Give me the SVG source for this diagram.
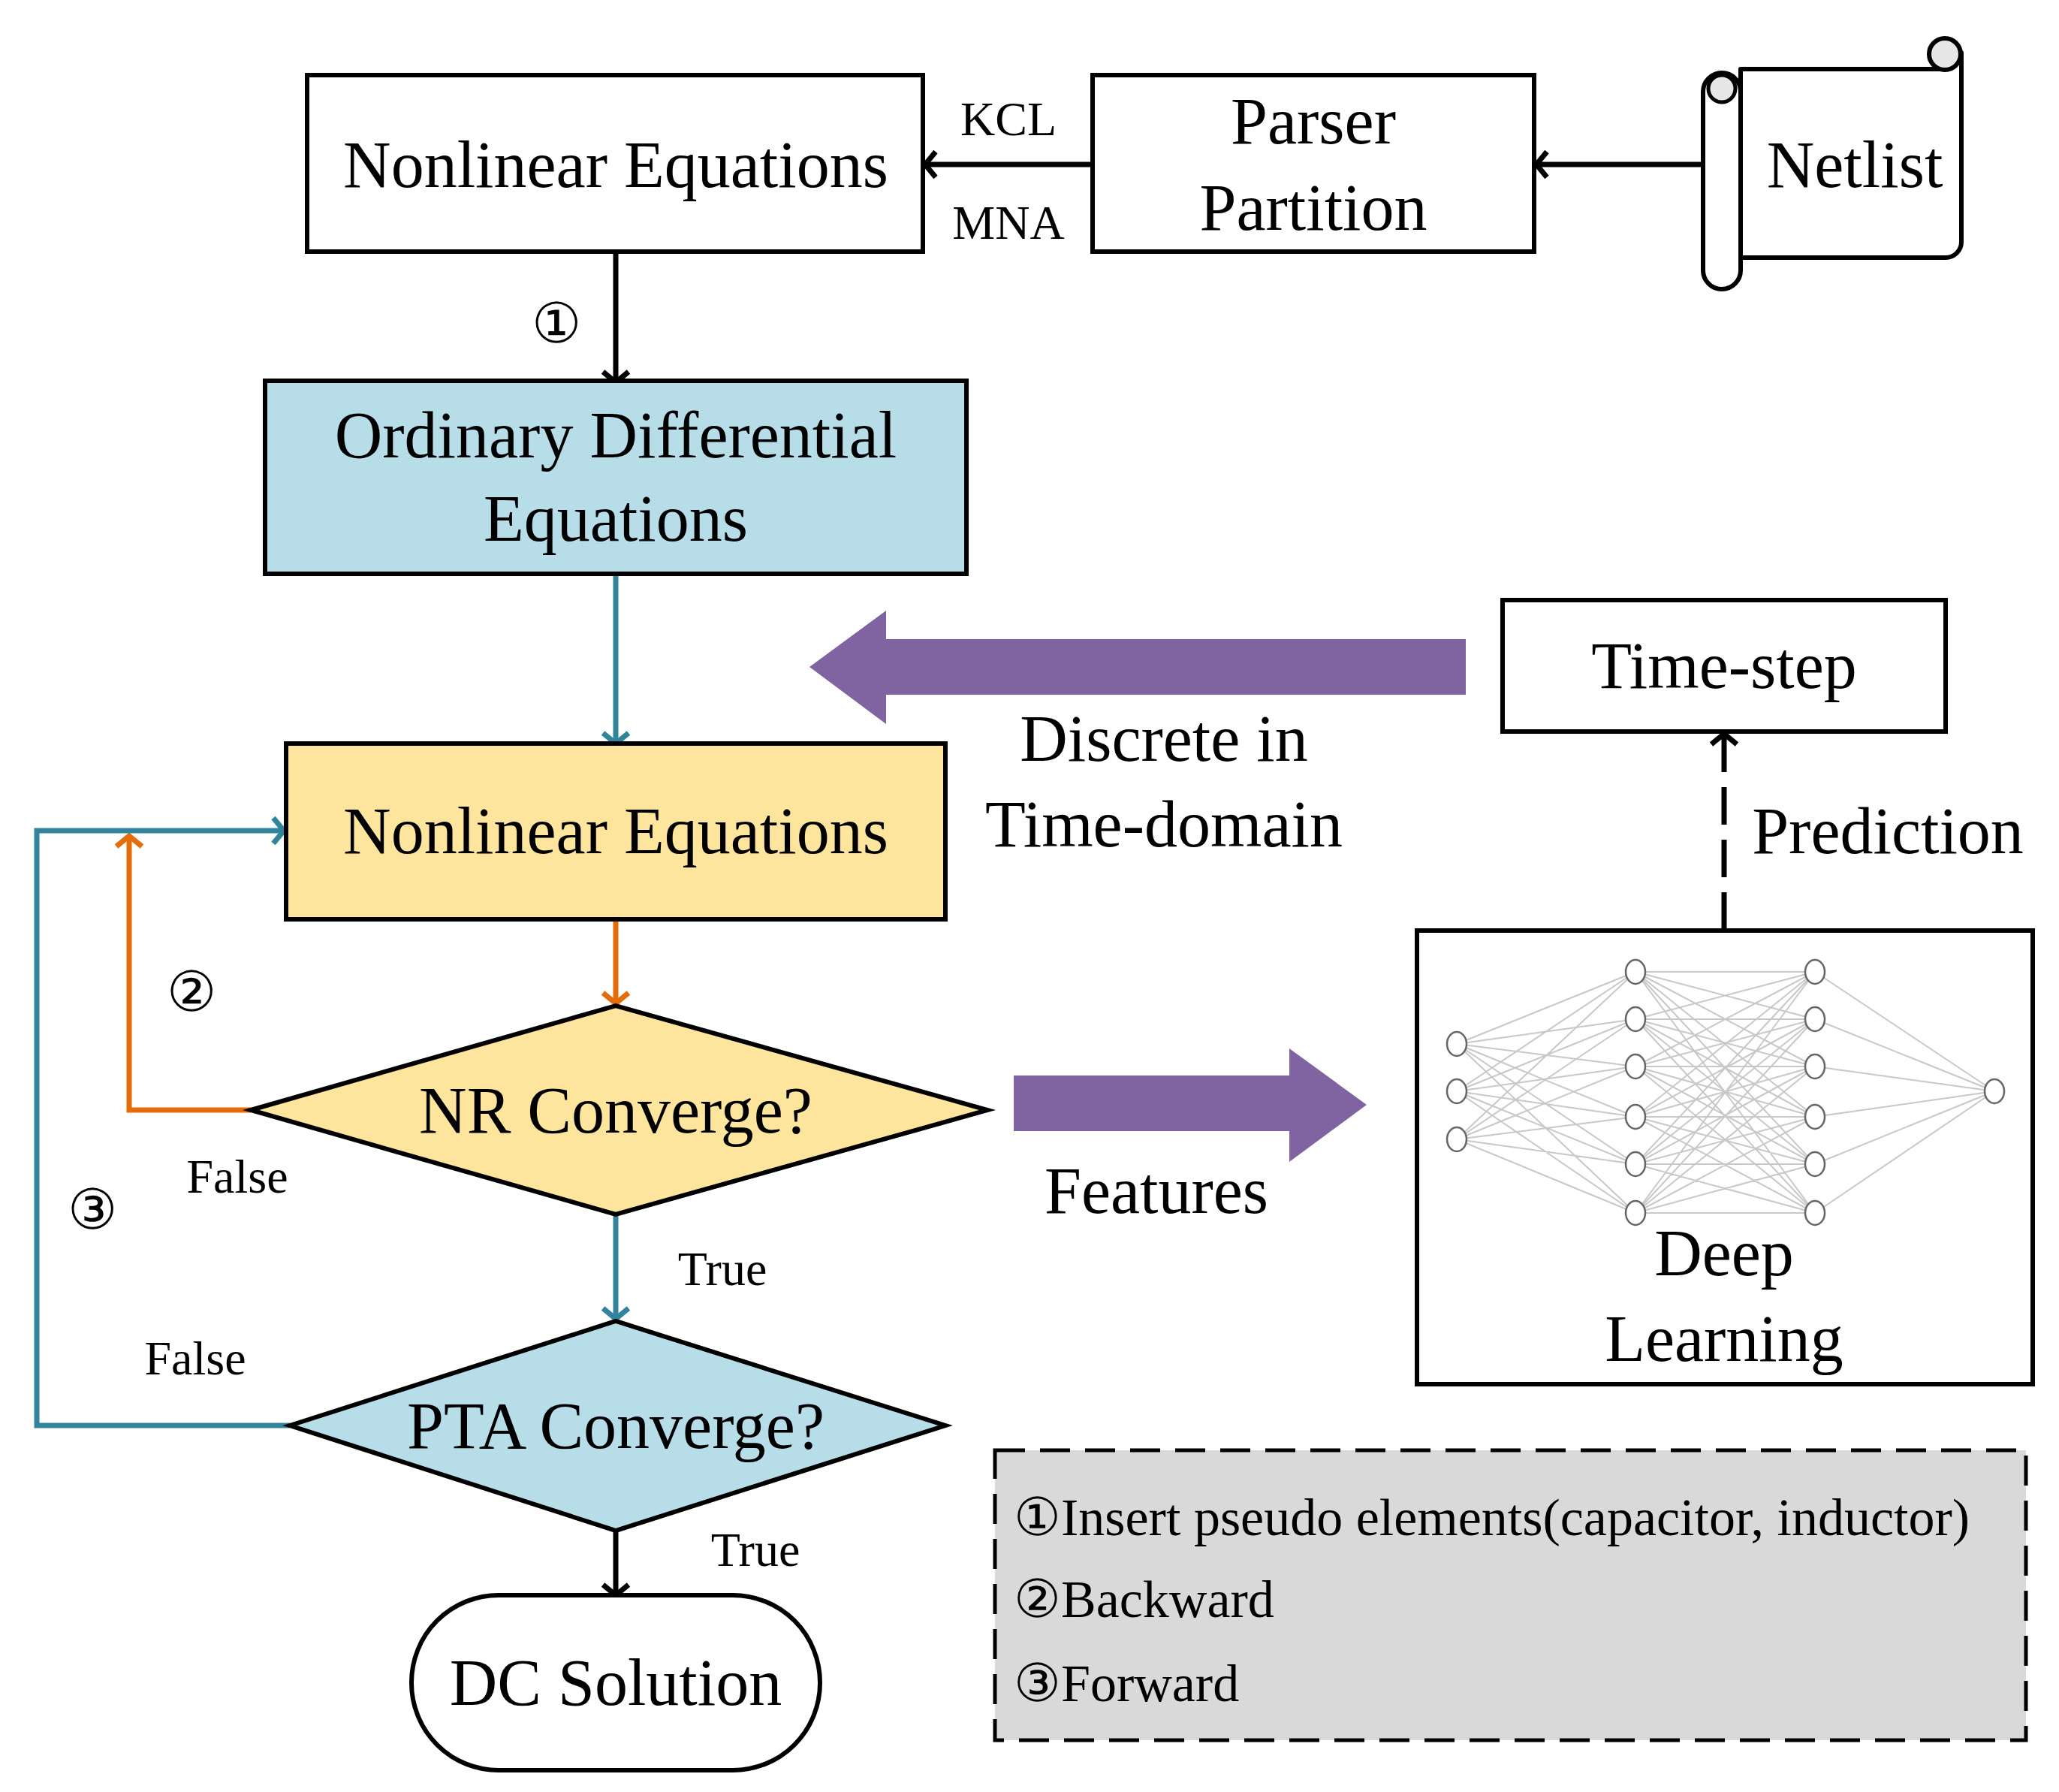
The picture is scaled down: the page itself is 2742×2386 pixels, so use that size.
<svg xmlns="http://www.w3.org/2000/svg" width="2742" height="2386" viewBox="0 0 2742 2386">
<defs>
<style>
text{font-family:"Liberation Serif","Times New Roman",serif;fill:#000;text-anchor:middle}
.t{font-size:88px}
.s{font-size:64px}
.c{font-size:74px}
.lg{font-size:70px;text-anchor:start}
.box{stroke:#000;stroke-width:6;fill:#fff}
.k{stroke:#000;stroke-width:7;fill:none}
.tl{stroke:#31849b;stroke-width:7;fill:none}
.or{stroke:#e46c0a;stroke-width:7;fill:none}
.nn{stroke:#c8c8c8;stroke-width:2;fill:none}
.nd{stroke:#666;stroke-width:2.5;fill:#fff}
</style>
<marker id="ak" markerWidth="10" markerHeight="10" refX="8" refY="5" orient="auto" markerUnits="userSpaceOnUse" viewBox="0 0 10 10" style="overflow:visible"><path d="M-6 -12 L8 5 L-6 22" fill="none" stroke="#000" stroke-width="7"/></marker>
<marker id="at" markerWidth="10" markerHeight="10" refX="8" refY="5" orient="auto" markerUnits="userSpaceOnUse" viewBox="0 0 10 10" style="overflow:visible"><path d="M-6 -12 L8 5 L-6 22" fill="none" stroke="#31849b" stroke-width="7"/></marker>
<marker id="ao" markerWidth="10" markerHeight="10" refX="8" refY="5" orient="auto" markerUnits="userSpaceOnUse" viewBox="0 0 10 10" style="overflow:visible"><path d="M-6 -12 L8 5 L-6 22" fill="none" stroke="#e46c0a" stroke-width="7"/></marker>
</defs>
<rect width="2742" height="2386" fill="#fff"/>

<g id="connectors">
<path class="k" d="M1455 219H1232" marker-end="url(#ak)"/>
<path class="k" d="M2278 219H2046" marker-end="url(#ak)"/>
<path class="k" d="M820 335V509" marker-end="url(#ak)"/>
<path class="tl" d="M820 764V990" marker-end="url(#at)"/>
<path class="or" d="M820 1224V1336" marker-end="url(#ao)"/>
<path class="or" d="M334 1478H172V1113" marker-end="url(#ao)"/>
<path class="tl" d="M820 1617V1756" marker-end="url(#at)"/>
<path class="tl" d="M386 1898H49V1106H378" marker-end="url(#at)"/>
<path class="k" d="M820 2038V2124" marker-end="url(#ak)"/>
<path class="k" d="M2296 1238V977" stroke-dasharray="50 20" marker-end="url(#ak)"/>
<polygon points="1952,851 1180,851 1180,813 1078,888 1180,964 1180,925 1952,925" fill="#8064a2"/>
<polygon points="1350,1432 1717,1432 1717,1396 1820,1471 1717,1547 1717,1506 1350,1506" fill="#8064a2"/>
</g>

<g id="labels">
<text class="s" x="1343" y="180">KCL</text>
<text class="s" x="1343" y="318">MNA</text>
<text class="c" x="741" y="456">①</text>
<text class="c" x="255" y="1346">②</text>
<text class="c" x="123" y="1636">③</text>
<text class="s" x="316" y="1588">False</text>
<text class="s" x="260" y="1830">False</text>
<text class="s" x="962" y="1711">True</text>
<text class="s" x="1006" y="2085">True</text>
<text class="t" x="1550" y="1013">Discrete in</text>
<text class="t" x="1550" y="1127">Time-domain</text>
<text class="t" x="2514" y="1136">Prediction</text>
<text class="t" x="1540" y="1615">Features</text>
</g>

<g id="nl_top"><rect class="box" x="409" y="100" width="820" height="235"/><text class="t" x="820" y="249">Nonlinear Equations</text></g>
<g id="parser"><rect class="box" x="1455" y="100" width="588" height="235"/><text class="t" x="1749" y="191">Parser</text><text class="t" x="1749" y="306">Partition</text></g>
<g id="netlist">
<path class="box" d="M2318 92H2587V70A22 22 0 0 1 2612 70V322A21 21 0 0 1 2591 343H2318Z" stroke-linejoin="round"/>
<circle cx="2590" cy="72" r="21" fill="#e6e6e6" stroke="#000" stroke-width="6"/>
<rect class="box" x="2268" y="97" width="50" height="288" rx="25"/>
<circle cx="2293" cy="118" r="18" fill="#e6e6e6" stroke="#000" stroke-width="5"/>
<text class="t" x="2470" y="249">Netlist</text>
</g>
<g id="ode"><rect class="box" x="353" y="507" width="934" height="257" fill="#b7dde8" style="fill:#b7dde8"/><text class="t" x="820" y="609">Ordinary Differential</text><text class="t" x="820" y="720">Equations</text></g>
<g id="nl_mid"><rect class="box" x="381" y="990" width="878" height="234" style="fill:#fde59d"/><text class="t" x="820" y="1136">Nonlinear Equations</text></g>
<g id="nr"><polygon class="box" points="334,1478 820,1339 1315,1478 820,1617" style="fill:#fde59d"/><text class="t" x="820" y="1508">NR Converge?</text></g>
<g id="pta"><polygon class="box" points="386,1898 820,1759 1259,1898 820,2038" style="fill:#b7dde8"/><text class="t" x="820" y="1928">PTA Converge?</text></g>
<g id="dc"><rect class="box" x="548" y="2124" width="544" height="233" rx="116"/><text class="t" x="820" y="2270">DC Solution</text></g>
<g id="timestep"><rect class="box" x="2001" y="799" width="590" height="175"/><text class="t" x="2296" y="916">Time-step</text></g>

<g id="deeplearning">
<rect class="box" x="1887" y="1239" width="820" height="604"/>
<path class="nn" d="M1940 1390L2178 1294M1940 1390L2178 1357M1940 1390L2178 1420M1940 1390L2178 1487M1940 1390L2178 1550M1940 1390L2178 1615
M1940 1453L2178 1294M1940 1453L2178 1357M1940 1453L2178 1420M1940 1453L2178 1487M1940 1453L2178 1550M1940 1453L2178 1615
M1940 1517L2178 1294M1940 1517L2178 1357M1940 1517L2178 1420M1940 1517L2178 1487M1940 1517L2178 1550M1940 1517L2178 1615
M2178 1294L2417 1294M2178 1294L2417 1357M2178 1294L2417 1420M2178 1294L2417 1487M2178 1294L2417 1550M2178 1294L2417 1615
M2178 1357L2417 1294M2178 1357L2417 1357M2178 1357L2417 1420M2178 1357L2417 1487M2178 1357L2417 1550M2178 1357L2417 1615
M2178 1420L2417 1294M2178 1420L2417 1357M2178 1420L2417 1420M2178 1420L2417 1487M2178 1420L2417 1550M2178 1420L2417 1615
M2178 1487L2417 1294M2178 1487L2417 1357M2178 1487L2417 1420M2178 1487L2417 1487M2178 1487L2417 1550M2178 1487L2417 1615
M2178 1550L2417 1294M2178 1550L2417 1357M2178 1550L2417 1420M2178 1550L2417 1487M2178 1550L2417 1550M2178 1550L2417 1615
M2178 1615L2417 1294M2178 1615L2417 1357M2178 1615L2417 1420M2178 1615L2417 1487M2178 1615L2417 1550M2178 1615L2417 1615
M2417 1294L2656 1453M2417 1357L2656 1453M2417 1420L2656 1453M2417 1487L2656 1453M2417 1550L2656 1453M2417 1615L2656 1453"/>
<g class="nd">
<ellipse cx="1940" cy="1390" rx="13" ry="16"/><ellipse cx="1940" cy="1453" rx="13" ry="16"/><ellipse cx="1940" cy="1517" rx="13" ry="16"/>
<ellipse cx="2178" cy="1294" rx="13" ry="16"/><ellipse cx="2178" cy="1357" rx="13" ry="16"/><ellipse cx="2178" cy="1420" rx="13" ry="16"/><ellipse cx="2178" cy="1487" rx="13" ry="16"/><ellipse cx="2178" cy="1550" rx="13" ry="16"/><ellipse cx="2178" cy="1615" rx="13" ry="16"/>
<ellipse cx="2417" cy="1294" rx="13" ry="16"/><ellipse cx="2417" cy="1357" rx="13" ry="16"/><ellipse cx="2417" cy="1420" rx="13" ry="16"/><ellipse cx="2417" cy="1487" rx="13" ry="16"/><ellipse cx="2417" cy="1550" rx="13" ry="16"/><ellipse cx="2417" cy="1615" rx="13" ry="16"/>
<ellipse cx="2656" cy="1453" rx="13" ry="16"/>
</g>
<text class="t" x="2296" y="1698">Deep</text>
<text class="t" x="2296" y="1812">Learning</text>
</g>

<g id="legend">
<rect x="1325" y="1931" width="1373" height="386" fill="#d9d9d9" stroke="#000" stroke-width="5" stroke-dasharray="40 20"/>
<text class="lg" x="1350" y="2044">①Insert pseudo elements(capacitor, inductor)</text>
<text class="lg" x="1350" y="2153">②Backward</text>
<text class="lg" x="1350" y="2265">③Forward</text>
</g>
</svg>
